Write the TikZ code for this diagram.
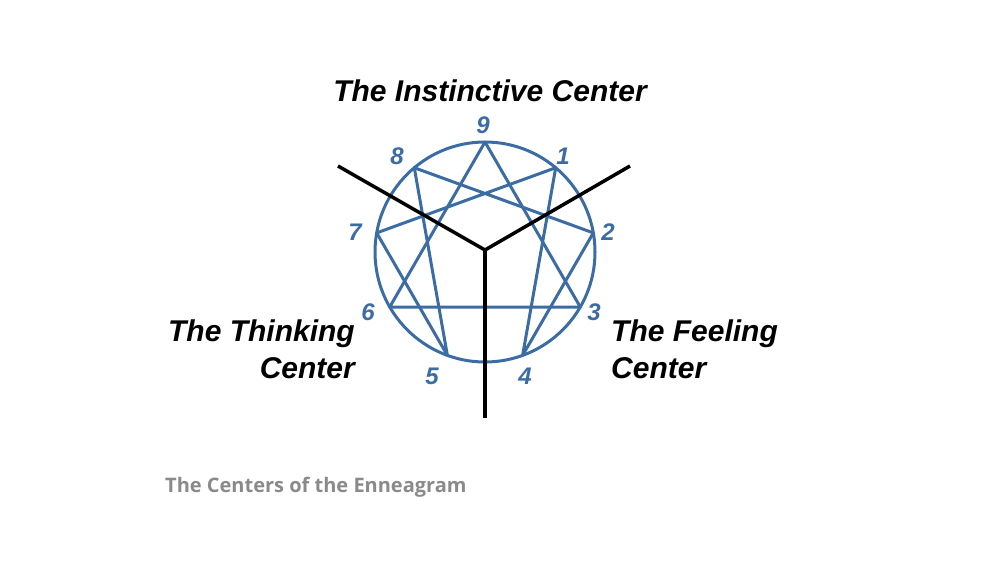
\documentclass[tikz,border=0pt]{standalone}
\usepackage{fontspec}
\usetikzlibrary{calc}
\setmainfont{Liberation Sans}
\newfontfamily\capfont{Open Sans}
\definecolor{ennblue}{HTML}{3B6CA3}
\definecolor{capgray}{HTML}{8A8A8A}
\begin{document}
\begin{tikzpicture}[x=1pt,y=-1pt,
  num/.style={text=ennblue,font=\fontsize{24}{24}\selectfont\bfseries\itshape,inner sep=0},
  title/.style={font=\fontsize{30}{37}\selectfont\bfseries\itshape,inner sep=0},
  enn/.style={draw=ennblue,line width=3pt,line join=round},
  axis/.style={draw=black,line width=3.5pt}]
\useasboundingbox (0,0) rectangle (999,562);
\coordinate (c) at (485,252);
\foreach \i in {0,...,8}{
  \coordinate (p\i) at ($(c)+({110*sin(40*\i)},{-110*cos(40*\i)})$);
}
\draw[enn] (c) circle (110);
\draw[enn] (p0) -- (p3) -- (p6) -- cycle;
\draw[enn] (p1) -- (p4) -- (p2) -- (p8) -- (p5) -- (p7) -- cycle;
\coordinate (j) at (485,250);
\coordinate (a1) at (338,166);
\coordinate (a2) at (630,166);
\coordinate (a3) at (485,418);
\draw[axis] (a1) -- (j) -- (a2);
\draw[axis] (j) -- (a3);
\node[num] (n9) at (483,125) {9};
\node[num] (n1) at (563,156) {1};
\node[num] (n2) at (608,232) {2};
\node[num] (n3) at (594,312) {3};
\node[num] (n4) at (525,376) {4};
\node[num] (n5) at (432,376) {5};
\node[num] (n6) at (368,312) {6};
\node[num] (n7) at (355,232) {7};
\node[num] (n8) at (397,156) {8};
\node[title] (t1) at (490,91) {The Instinctive Center};
\node[title,align=right,anchor=east] (t2) at (355,349) {The Thinking\\Center};
\node[title,align=left,anchor=west] (t3) at (611,349) {The Feeling\\Center};
\node[anchor=west,inner sep=0,text=capgray,font=\capfont\fontsize{20}{20}\selectfont\bfseries] (cap) at (165,487) {The Centers of the Enneagram};
\end{tikzpicture}
\end{document}
